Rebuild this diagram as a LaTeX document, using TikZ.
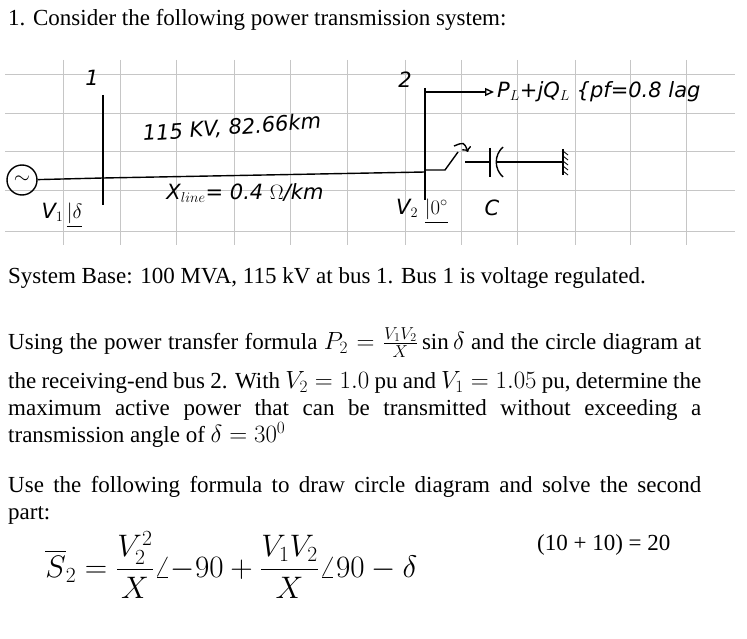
\documentclass[tikz,border=0pt]{standalone}
\usepackage{amsmath}
\usepackage{fontspec}
\setmainfont{Liberation Serif}
\newfontfamily\hand{DejaVu Sans}
\usetikzlibrary{arrows.meta}
\begin{document}
\begin{tikzpicture}[x=1pt,y=-1pt,
  grid/.style={gray!45,line width=0.5pt},
  ink/.style={line width=1.4pt,black},
  hw/.style={font=\hand\itshape\fontsize{21}{21}\selectfont,inner sep=0},
  txt/.style={anchor=west,inner sep=0,font=\fontsize{23}{27}\selectfont}]
\useasboundingbox (0,0) rectangle (747,639);
\fill[white] (0,0) rectangle (747,639);
% grid
\foreach \x in {63,120,176,234,290,347,405,461,517,575,630,686}
  \draw[grid] (\x,60) -- (\x,245);
\foreach \y in {74,113,151,190,231}
  \draw[grid] (5,\y) -- (735,\y);
% diagram
\node[draw,circle,ink,minimum size=30pt,inner sep=0,font=\huge] (g) at (22,180) {$\sim$};
\coordinate (b1t) at (103,95); \coordinate (b1b) at (103,205);
\draw[ink] (b1t) -- (b1b);
\coordinate (b2t) at (425,88); \coordinate (b2b) at (425,200);
\draw[ink] (b2t) -- (b2b);
\coordinate (b1l) at (103,178); \coordinate (b2l) at (425,172);
\draw[ink] (g) -- (b1l) -- (b2l);
\node[hw] (n1) at (92,78) {1};
\node[hw] (n2) at (405,80) {2};
\coordinate (a0) at (425,92); \coordinate (a1) at (494,92);
\draw[ink,-{Triangle[open,length=9pt,width=8pt]}] (a0) -- (a1);
\node[hw,anchor=west] (pl) at (497,92) {P$_L$+jQ$_L$ \{pf=0.8 lag};
\node[hw,rotate=4] (l1) at (232,128) {115 KV, 82.66km};
\node[hw] (l2) at (245,193) {X$_{line}$= 0.4 $\Omega$/km};
\node[hw] (v1) at (62,215) {V$_1\,\underline{|\delta}$};
\node[hw] (v2) at (422,211) {V$_2$ $\underline{|0^\circ}$};
\node[hw] (cc) at (492,208) {C};
% switch and capacitor
\coordinate (s0) at (425,170); \coordinate (s1) at (445,170); \coordinate (s2) at (458,152);
\draw[ink] (s0) -- (s1) -- (s2);
\draw[ink,->] (454,146) .. controls (464,142) .. (468,152);
\coordinate (c0) at (465,162); \coordinate (c1) at (490,162);
\draw[ink] (c0) -- (c1);
\draw[ink] (490,148) -- (490,177);
\draw[ink] (503,147) .. controls (494,155) and (494,169) .. (503,177);
\coordinate (c2) at (497,162); \coordinate (gd) at (563,162);
\draw[ink] (c2) -- (gd);
\draw[ink] (563,149) -- (563,175);
\foreach \yy in {151,156,161,166,171} \draw[line width=0.8pt] (563,\yy) -- (568,\yy+4);
% text
\node[txt] (t0) at (8,20) {1. Consider the following power transmission system:};
\node[txt] (t1) at (8,278) {System Base: 100 MVA, 115 kV at bus 1. Bus 1 is voltage regulated.};
\node[txt,anchor=north west] (t2) at (8,327) {\parbox{693pt}{\fontsize{23}{27}\selectfont\noindent\hyphenpenalty=10000
Using the power transfer formula $P_2=\frac{V_1V_2}{X}\sin\delta$ and the circle diagram at\vadjust{\vspace{12pt}}\linebreak
the receiving-end bus 2. With $V_2 = 1.0$ pu and $V_1 = 1.05$ pu, determine the\linebreak
maximum active power that can be transmitted without exceeding a\linebreak
transmission angle of $\delta = 30^0$}};
\node[txt,anchor=north west] (t3) at (8,476) {\parbox{693pt}{\fontsize{23}{27}\selectfont\noindent\hyphenpenalty=10000
Use the following formula to draw circle diagram and solve the second\linebreak part:}};
\node[txt,scale=1.25,anchor=west] (f) at (45,565) {$\overline{S}_2=\dfrac{V_2^2}{X}\angle{-90}+\dfrac{V_1V_2}{X}\angle 90-\delta$};
\node[txt] (m) at (537,545) {(10 + 10) = 20};
\end{tikzpicture}
\end{document}
